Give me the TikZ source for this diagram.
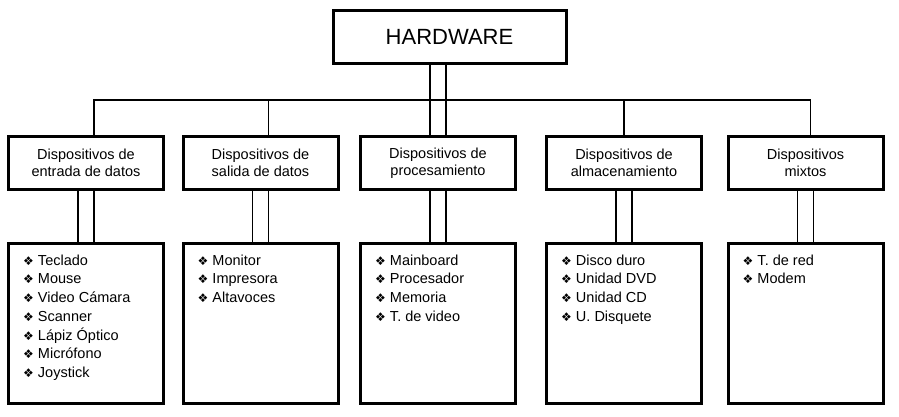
\documentclass[tikz,border=0pt]{standalone}
\usepackage{fontspec}
\setmainfont{Liberation Sans}
\newfontfamily\djfont{DejaVu Sans}
\begin{document}
\begin{tikzpicture}[x=1pt,y=-1pt,
 box/.style={draw,line width=3pt,inner sep=0pt},
 cat/.style={box,minimum width=155pt,minimum height=53pt,align=center,font=\fontsize{14.5}{17}\selectfont},
 lst/.style={box,minimum width=155pt,minimum height=160pt},
 ln/.style={line width=1.5pt}]
\useasboundingbox (0,0) rectangle (899,416);
\newcommand\bl{{\djfont\fontsize{12}{12}\selectfont ❖}~}
\node[box,minimum width=233pt,minimum height=53pt,font=\fontsize{22}{26}\selectfont] (hw) at (449.5,36.5) {HARDWARE};
\foreach \i/\x/\t in {1/86/{Dispositivos de\\entrada de datos},2/260.5/{Dispositivos de\\salida de datos},3/438/{Dispositivos de\\procesamiento},4/624/{Dispositivos de\\almacenamiento},5/805.5/{Dispositivos\\mixtos}}{
 \node[cat] (c\i) at (\x,163) {\t};
 \node[lst] (l\i) at (\x,323) {};
 \draw[ln] ([xshift=-8pt]c\i.south) -- ([xshift=-8pt]l\i.north);
 \draw[ln] ([xshift=8pt]c\i.south) -- ([xshift=8pt]l\i.north);
}
\draw[ln] ([xshift=-8pt]c3.north |- hw.south) -- ([xshift=-8pt]c3.north);
\draw[ln] ([xshift=8pt]c3.north |- hw.south) -- ([xshift=8pt]c3.north);
\coordinate (h1) at ([xshift=8pt]c1.north |- 0,100);
\coordinate (h5) at ([xshift=5pt]c5.north |- 0,100);
\draw[ln] ([xshift=8pt]c1.north) -- (h1) -- (h5) -- ([xshift=5pt]c5.north);
\draw[ln] ([xshift=8pt]c2.north) -- ([xshift=8pt]c2.north |- h1);
\draw[ln] (c4.north) -- (c4.north |- h1);
\foreach \i/\t in {1/{Teclado\\\bl Mouse\\\bl Video Cámara\\\bl Scanner\\\bl Lápiz Óptico\\\bl Micrófono\\\bl Joystick},
 2/{Monitor\\\bl Impresora\\\bl Altavoces},
 3/{Mainboard\\\bl Procesador\\\bl Memoria\\\bl T. de video},
 4/{Disco duro\\\bl Unidad DVD\\\bl Unidad CD\\\bl U. Disquete},
 5/{T. de red\\\bl Modem}}
 \node[anchor=north west,align=left,inner sep=0pt,font=\fontsize{14.5}{18.7}\selectfont] (t\i) at ([xshift=16pt,yshift=-13pt]l\i.north west) {\bl\t};
\end{tikzpicture}
\end{document}
